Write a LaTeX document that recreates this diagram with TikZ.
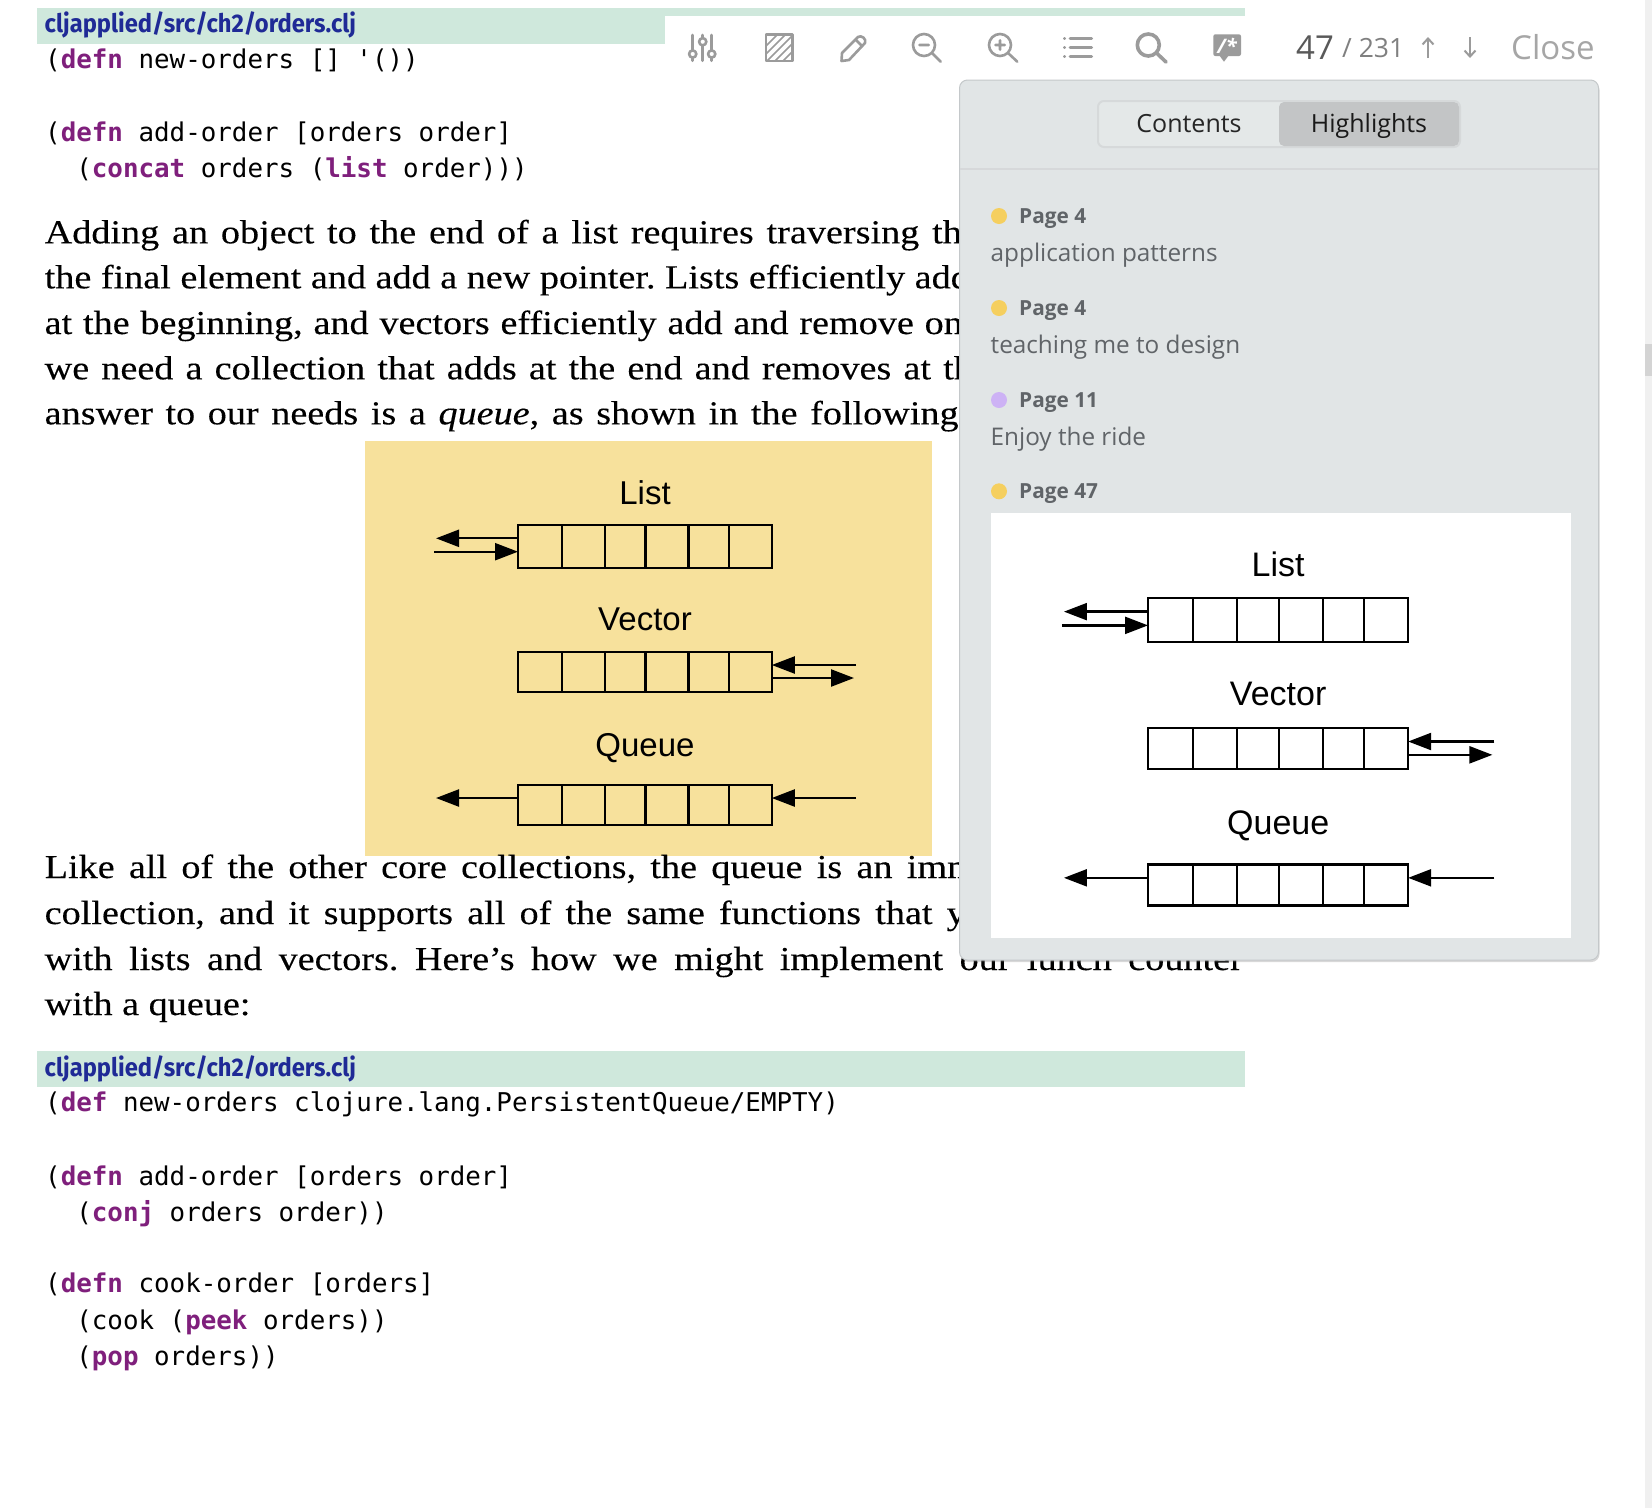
\documentclass[tikz,border=0pt]{standalone}
\usepackage{fontspec}
\usetikzlibrary{arrows.meta, shadows}

\newfontfamily\bodyfont[FakeStretch=1.14, FakeBold=0.2]{Liberation Serif}
\newfontfamily\codefont{DejaVu Sans Mono}
\newfontfamily\linkfont[FakeStretch=0.93]{Fira Sans}
\newfontfamily\uifont{Open Sans}
\newfontfamily\figfont{Liberation Sans}

\definecolor{barcolor}{HTML}{CFE8DC}
\definecolor{linkcolor}{HTML}{1F2A96}
\definecolor{kwcolor}{HTML}{7F1F7C}
\definecolor{figcolor}{HTML}{F7E19C}
\definecolor{panelcolor}{HTML}{E1E5E6}
\definecolor{edgecolor}{HTML}{C4C8CA}
\definecolor{tabcolor}{HTML}{C3C5C6}
\definecolor{iconcolor}{HTML}{9B9B9B}
\definecolor{notecolor}{HTML}{606468}
\definecolor{dotyellow}{HTML}{F5CF5F}
\definecolor{dotpurple}{HTML}{CDB2F5}

\newcommand{\kw}[1]{\textcolor{kwcolor}{\bfseries #1}}
\newcommand{\jline}[2]{\makebox[#1pt][s]{#2}}

\tikzset{
  bodyline/.style = {anchor = base west, inner sep = 0pt, font = \frenchspacing\bodyfont\fontsize{33.5}{33.5}\selectfont},
  codeline/.style = {anchor = base west, inner sep = 0pt, font = \codefont\fontsize{25.85}{25.85}\selectfont},
  linkline/.style = {anchor = base west, inner sep = 0pt, text = linkcolor, font = \linkfont\bfseries\fontsize{25.5}{25.5}\selectfont},
  rowbox/.style = {draw, line width = 2.3pt, anchor = north west, inner sep = 0pt, outer sep = 0pt},
  rowline/.style = {line width = 2.3pt},
  flow/.style = {line width = 2.3pt, -{Triangle[length = 23pt, width = 17pt]}},
  icon/.style = {draw = iconcolor, line width = 2.6pt, line cap = round, line join = round},
  pagelabel/.style = {anchor = base west, inner sep = 0pt, text = notecolor, font = \uifont\bfseries\fontsize{20.8}{20.8}\selectfont},
  notetext/.style = {anchor = base west, inner sep = 0pt, text = notecolor, font = \uifont\fontsize{24.3}{24.3}\selectfont},
  notedot/.style = {circle, minimum size = 16pt, inner sep = 0pt}
}

% one figure: prefix, x, y, scale, label size
\newcommand{\colldiagram}[5]{
  \begin{scope}[shift = {(#2, #3)}, x = #4pt, y = -#4pt, collabel/.style = {anchor = base, inner sep = 0pt, font = \figfont\fontsize{#5}{#5}\selectfont}]
    \node (#1listlabel) [collabel] at (127, -21) {List};
    \node (#1veclabel) [collabel] at (127, 105) {Vector};
    \node (#1quelabel) [collabel] at (127, 231) {Queue};

    \node (#1list) [rowbox, minimum width = #4*253.8pt, minimum height = #4*43pt] at (0, 0) {};
    \node (#1vec) [rowbox, minimum width = #4*253.8pt, minimum height = #4*40pt] at (0, 127) {};
    \node (#1que) [rowbox, minimum width = #4*253.8pt, minimum height = #4*40pt] at (0, 260) {};

    \foreach \rowname in {list, vec, que}
      \foreach \cutx in {44, 87, 127.6, 170.5, 211}
        \draw [rowline] (\cutx, 0 |- #1\rowname.north) -- (\cutx, 0 |- #1\rowname.south);

    % free ends of the arrows
    \coordinate (#1listout) at (-82, 13.3);
    \coordinate (#1listin) at (-84, 26.7);
    \coordinate (#1vecin) at (338, 140);
    \coordinate (#1vecout) at (336, 153);
    \coordinate (#1queout) at (-82, 273);
    \coordinate (#1quein) at (338, 273);

    \draw [flow] (#1list.west |- #1listout) -- (#1listout);
    \draw [flow] (#1listin) -- (#1list.west |- #1listin);
    \draw [flow] (#1vecin) -- (#1vec.east |- #1vecin);
    \draw [flow] (#1vec.east |- #1vecout) -- (#1vecout);
    \draw [flow] (#1que.west |- #1queout) -- (#1queout);
    \draw [flow] (#1quein) -- (#1que.east |- #1quein);
  \end{scope}
}

\begin{document}
\begin{tikzpicture}[x = 1pt, y = -1pt]
  \useasboundingbox (0, 0) rectangle (1652, 1508);
  \fill [white] (0, 0) rectangle (1652, 1508);

  % scroll bar
  \fill [black!6] (1645, 0) rectangle (1652, 1508);
  \fill [black!17] (1645, 344) rectangle (1652, 376);

  % first listing
  \fill [barcolor] (37, 7.5) rectangle (1245, 43.7);
  \fill [white] (664.5, 15.7) rectangle (1245, 44);
  \node (linkone) [linkline] at (44.5, 32.5) {cljapplied/src/ch2/orders.clj};
  \node (codeone) [codeline] at (45, 68.3) {(\kw{defn} new-orders [] '())};
  \node (codetwo) [codeline] at (45, 141.7) {(\kw{defn} add-order [orders order]};
  \node (codethree) [codeline] at (45, 177) {\ \ (\kw{concat} orders (\kw{list} order)))};

  % first paragraph
  \node (lineone) [bodyline] at (44.5, 243.3) {\jline{934}{Adding an object to the end of a list requires traversing the}};
  \node (linetwo) [bodyline] at (44.5, 288.3) {\jline{925}{the final element and add a new pointer. Lists efficiently add}};
  \node (linethree) [bodyline] at (44.5, 334) {\jline{918}{at the beginning, and vectors efficiently add and remove on}};
  \node (linefour) [bodyline] at (44.5, 379.3) {\jline{945}{we need a collection that adds at the end and removes at the}};
  \node (linefive) [bodyline] at (44.5, 424.3) {\jline{914}{answer to our needs is a \textit{queue}, as shown in the following}};

  % figure in the page
  \fill [figcolor] (365, 441) rectangle (932, 855.5);
  \colldiagram{page}{518}{525}{1}{33}

  % second paragraph
  \node (linesix) [bodyline] at (44.5, 878) {\jline{932}{Like all of the other core collections, the queue is an imm}};
  \node (lineseven) [bodyline] at (44.5, 924) {\jline{921}{collection, and it supports all of the same functions that y}};
  \node (lineeight) [bodyline] at (44.5, 970) {\jline{1198}{with lists and vectors. Here’s how we might implement our lunch counter}};
  \node (linenine) [bodyline] at (44.5, 1015) {with a queue:};

  % second listing
  \fill [barcolor] (37, 1051) rectangle (1245, 1087);
  \node (linktwo) [linkline] at (44.5, 1076) {cljapplied/src/ch2/orders.clj};
  \node (codefour) [codeline] at (45, 1111.7) {(\kw{def} new-orders clojure.lang.PersistentQueue/EMPTY)};
  \node (codefive) [codeline] at (45, 1185) {(\kw{defn} add-order [orders order]};
  \node (codesix) [codeline] at (45, 1221) {\ \ (\kw{conj} orders order))};
  \node (codeseven) [codeline] at (45, 1292.7) {(\kw{defn} cook-order [orders]};
  \node (codeeight) [codeline] at (45, 1329) {\ \ (cook (\kw{peek} orders))};
  \node (codenine) [codeline] at (45, 1365.7) {\ \ (\kw{pop} orders))};

  % tool icons
  \draw [icon] (692.7, 35) -- (692.7, 60.7) (702.7, 35) -- (702.7, 60.7) (711.7, 35) -- (711.7, 60.7);
  \draw [icon, fill = white] (692.7, 54) circle (3.6) (702.7, 41.7) circle (3.6) (711.7, 54) circle (3.6);
  \draw [icon] (766, 34.3) rectangle (792.3, 61);
  \begin{scope}
    \clip (766, 34.3) rectangle (792.3, 61);
    \foreach \c in {812, 820, 828, 836, 844}
      \draw [icon, line width = 1.6pt] ({\c - 34}, 34) -- ({\c - 62}, 62);
  \end{scope}
  \draw [icon] (841.5, 61) -- (842, 53) -- (858, 37) .. controls (861, 34.5) and (867, 39) .. (865, 43) -- (849, 60) -- cycle;
  \draw [icon] (856, 40) -- (862, 46);
  \draw [icon] (924, 45) circle (11) (932, 53) -- (940.7, 61.7) (919.3, 45) -- (928.7, 45);
  \draw [icon] (1000, 45) circle (11) (1008, 53) -- (1017.3, 61.7) (995.3, 45) -- (1004.7, 45) (1000, 40.3) -- (1000, 49.7);
  \draw [icon] (1064.3, 38.3) -- (1064.8, 38.3) (1064.3, 47.7) -- (1064.8, 47.7) (1064.3, 56.7) -- (1064.8, 56.7);
  \draw [icon] (1070, 38.3) -- (1091.7, 38.3) (1070, 47.7) -- (1091.7, 47.7) (1070, 56.7) -- (1091.7, 56.7);
  \draw [icon, line width = 3.6pt] (1148.3, 45) circle (11) (1156.5, 53) -- (1166, 62);
  \fill [iconcolor, rounded corners = 2pt] (1213.3, 34.3) rectangle (1241, 56);
  \fill [iconcolor] (1219, 55) -- (1224, 61.7) -- (1229, 55) -- cycle;
  \node (commentmark) [inner sep = 0pt, text = white, font = \uifont\bfseries\itshape\fontsize{20}{20}\selectfont] at (1227, 46) {/*};

  % page number
  \node (pagenow) [anchor = base west, inner sep = 0pt, text = black!65, font = \uifont\fontsize{33}{33}\selectfont] at (1296, 59) {47};
  \node (pagetotal) [anchor = base west, inner sep = 0pt, text = black!50, font = \uifont\fontsize{26.5}{26.5}\selectfont] at (1342, 57.5) {/ 231};
  \node (closeword) [anchor = base west, inner sep = 0pt, text = black!35, font = \uifont\fontsize{33}{33}\selectfont] at (1511, 59) {Close};
  \coordinate (upfoot) at (1428, 58);
  \coordinate (uphead) at (1428, 37);
  \coordinate (downtop) at (1470, 37);
  \coordinate (downhead) at (1470, 58);
  \draw [iconcolor, line width = 2pt, -{Straight Barb[length = 6pt, width = 11pt]}] (upfoot) -- (uphead);
  \draw [iconcolor, line width = 2pt, -{Straight Barb[length = 6pt, width = 11pt]}] (downtop) -- (downhead);

  % panel
  \filldraw [fill = panelcolor, draw = edgecolor, line width = 1pt, rounded corners = 8pt, drop shadow = {opacity = 0.3, shadow xshift = 1pt, shadow yshift = -2pt}] (959.5, 80) rectangle (1598.5, 960);
  \draw [edgecolor!70, line width = 2pt] (960, 169) -- (1598, 169);

  % tabs
  \filldraw [fill = panelcolor!90!white, draw = edgecolor!70, line width = 2pt, rounded corners = 6pt] (1098, 101) rectangle (1460, 147);
  \fill [tabcolor, rounded corners = 5pt] (1279, 102) rectangle (1459, 146);
  \node (contentstab) [anchor = base, inner sep = 0pt, text = black!85, font = \uifont\fontsize{25}{25}\selectfont] at (1189, 132) {Contents};
  \node (highlightstab) [anchor = base, inner sep = 0pt, text = black!90, font = \uifont\fontsize{25}{25}\selectfont] at (1369, 132) {Highlights};

  % notes
  \node (dotone) [notedot, fill = dotyellow] at (999, 216) {};
  \node (pageone) [pagelabel] at (1019, 223) {Page 4};
  \node (noteone) [notetext] at (990.5, 261.4) {application patterns};
  \node (dottwo) [notedot, fill = dotyellow] at (999, 308) {};
  \node (pagetwo) [pagelabel] at (1019, 315) {Page 4};
  \node (notetwo) [notetext] at (990.5, 353.4) {teaching me to design};
  \node (dotthree) [notedot, fill = dotpurple] at (999, 400) {};
  \node (pagethree) [pagelabel] at (1019, 407) {Page 11};
  \node (notethree) [notetext] at (990.5, 445) {Enjoy the ride};
  \node (dotfour) [notedot, fill = dotyellow] at (999, 491.3) {};
  \node (pagefour) [pagelabel] at (1019, 498.7) {Page 47};

  % figure in the panel
  \fill [white] (991, 513.3) rectangle (1570.7, 937.7);
  \colldiagram{note}{1148}{598}{1.025}{34}
\end{tikzpicture}
\end{document}
